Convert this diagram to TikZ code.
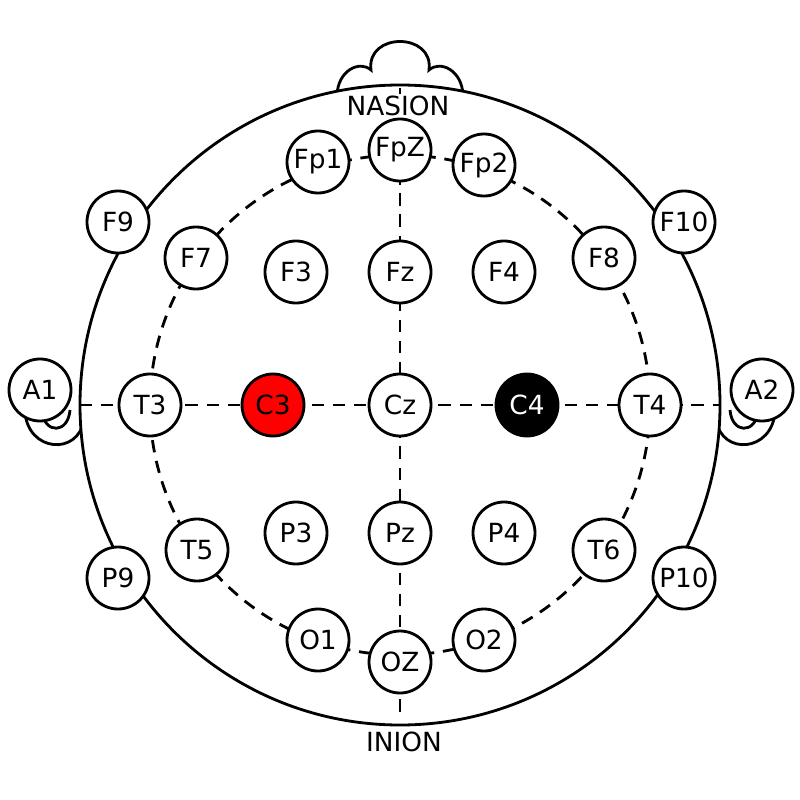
\documentclass[tikz,border=0pt]{standalone}
\usepackage{fontspec}
\setmainfont{DejaVu Sans}
\begin{document}
\begin{tikzpicture}[x=0.02cm,y=-0.02cm,line width=1.6pt,
 el/.style={circle,draw,fill=white,minimum size=62*0.02cm,inner sep=0pt,font=\fontsize{15}{17}\selectfont},
 dsh/.style={dash pattern=on 7pt off 5pt},
 lab/.style={fill=white,inner sep=1pt,font=\fontsize{15}{17}\selectfont}]
\useasboundingbox (0,0) rectangle (800,800);
% ears
\draw[fill=white] (25,412) .. controls (28,452) and (78,456) .. (84,420);
\draw (42,412) .. controls (45,434) and (68,434) .. (70,410);
\draw[fill=white] (775,412) .. controls (772,452) and (722,456) .. (716,420);
\draw (758,412) .. controls (755,434) and (732,434) .. (730,410);
% nose
\draw[fill=white] (337,95) .. controls (338,70) and (360,60) .. (371,70)
  .. controls (366,32) and (434,32) .. (429,70)
  .. controls (440,60) and (462,70) .. (463,95);
\draw[fill=white] (400,405) circle[radius=320];
\draw[dsh] (400,405) circle[radius=250];
\coordinate (L) at (80,405); \coordinate (R) at (720,405);
\coordinate (T) at (400,88); \coordinate (B) at (400,712);
\draw[dsh] (L) -- (R);
\draw[dsh] (T) -- (B);
\draw (T) -- (400,120);
\node[lab] (nasion) at (398,106) {NASION};
\node[lab] (inion) at (404,742) {INION};
\foreach \n/\x/\y in {FpZ/400/150,Fp1/318/162,Fp2/484/165,F7/196/258,F8/604/258,F3/296/272,Fz/400/272,F4/504/272,F9/118/222,F10/684/222,A1/40/390,A2/762/390,T3/150/405,Cz/400/405,T4/650/405,T5/197/550,P3/296/533,Pz/400/533,P4/504/533,T6/604/550,P9/118/578,P10/684/578,O1/318/640,OZ/400/662,O2/484/640}
  \node[el] (\n) at (\x,\y) {\n};
\node[el,fill=red] (C3) at (273,405) {C3};
\node[el,fill=black,text=white] (C4) at (527,405) {C4};
\end{tikzpicture}
\end{document}
